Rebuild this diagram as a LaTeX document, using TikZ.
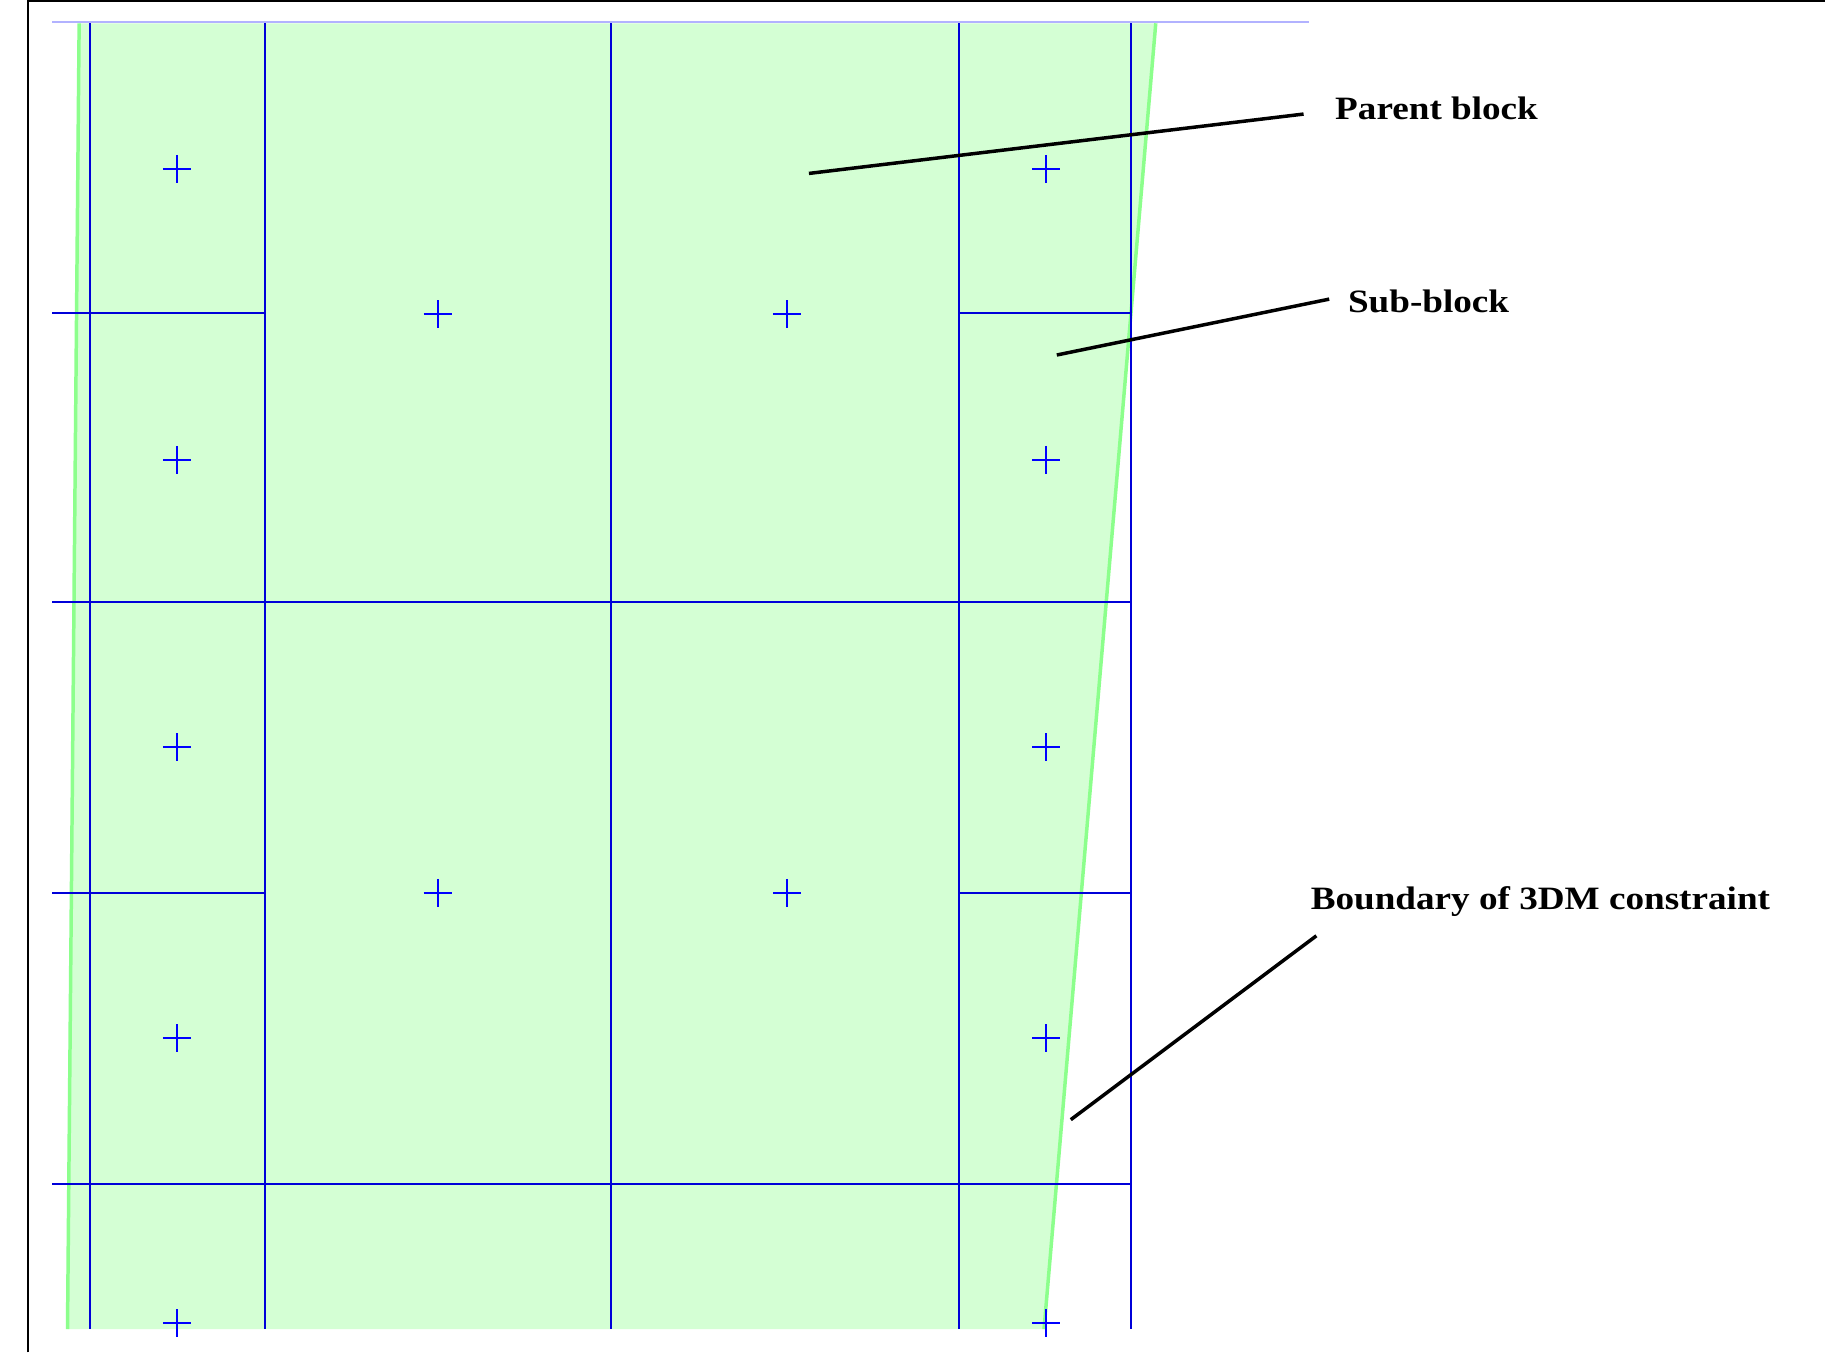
\documentclass[tikz,border=0pt]{standalone}
\usepackage{fontspec}
\usepackage{graphicx}
\setmainfont{Liberation Serif}
\newcommand{\wlab}[1]{\scalebox{1.14}[1]{#1}}
\begin{document}
\begin{tikzpicture}[x=1pt,y=-1pt,
  grid/.style={draw=blue!85!black,line width=1.8pt},
  pl/.style={draw=blue,line width=1.8pt},
  lead/.style={draw=black,line width=3pt},
  lab/.style={anchor=west,font=\bfseries\fontsize{28}{32}\selectfont,inner sep=0pt}]
\useasboundingbox (0,0) rectangle (1568,1162);
\fill[white] (0,0) rectangle (1568,1162);
\draw[line width=1.5pt] (24,1162) -- (24,1) -- (1568,1);
\fill[green!17] (68,20) -- (993,20) -- (897,1142) -- (58,1142) -- cycle;
\draw[green!45,line width=3pt] (68,20) -- (58,1142);
\draw[green!45,line width=3pt] (993,20) -- (897,1142);
\draw[blue!30,line width=1.2pt] (45,19) -- (1125,19);
\foreach \x in {77,228,525,824,972} \draw[grid] (\x,20) -- (\x,1142);
\foreach \y in {517,1017} \draw[grid] (45,\y) -- (972,\y);
\foreach \y in {269,767} {\draw[grid] (45,\y) -- (228,\y); \draw[grid] (824,\y) -- (972,\y);}
\foreach \x in {152,899} \foreach \y in {145,395,642,892,1137}
  \draw[pl] (\x-12,\y) -- (\x+12,\y) (\x,\y-12) -- (\x,\y+12);
\foreach \x in {376,676} \foreach \y in {270,767}
  \draw[pl] (\x-12,\y) -- (\x+12,\y) (\x,\y-12) -- (\x,\y+12);
\node[lab] (pb) at (1147,93) {\wlab{Parent block}};
\node[lab] (sb) at (1158,259) {\wlab{Sub-block}};
\node[lab] (bd) at (1126,775) {\wlab{Boundary of 3DM constraint}};
\coordinate (p1) at (695,149);
\coordinate (s1) at (908,305);
\coordinate (b1) at (920,962);
\draw[lead] (p1) -- (1120,98);
\draw[lead] (s1) -- (1142,257);
\draw[lead] (b1) -- (1131,804);
\end{tikzpicture}
\end{document}
